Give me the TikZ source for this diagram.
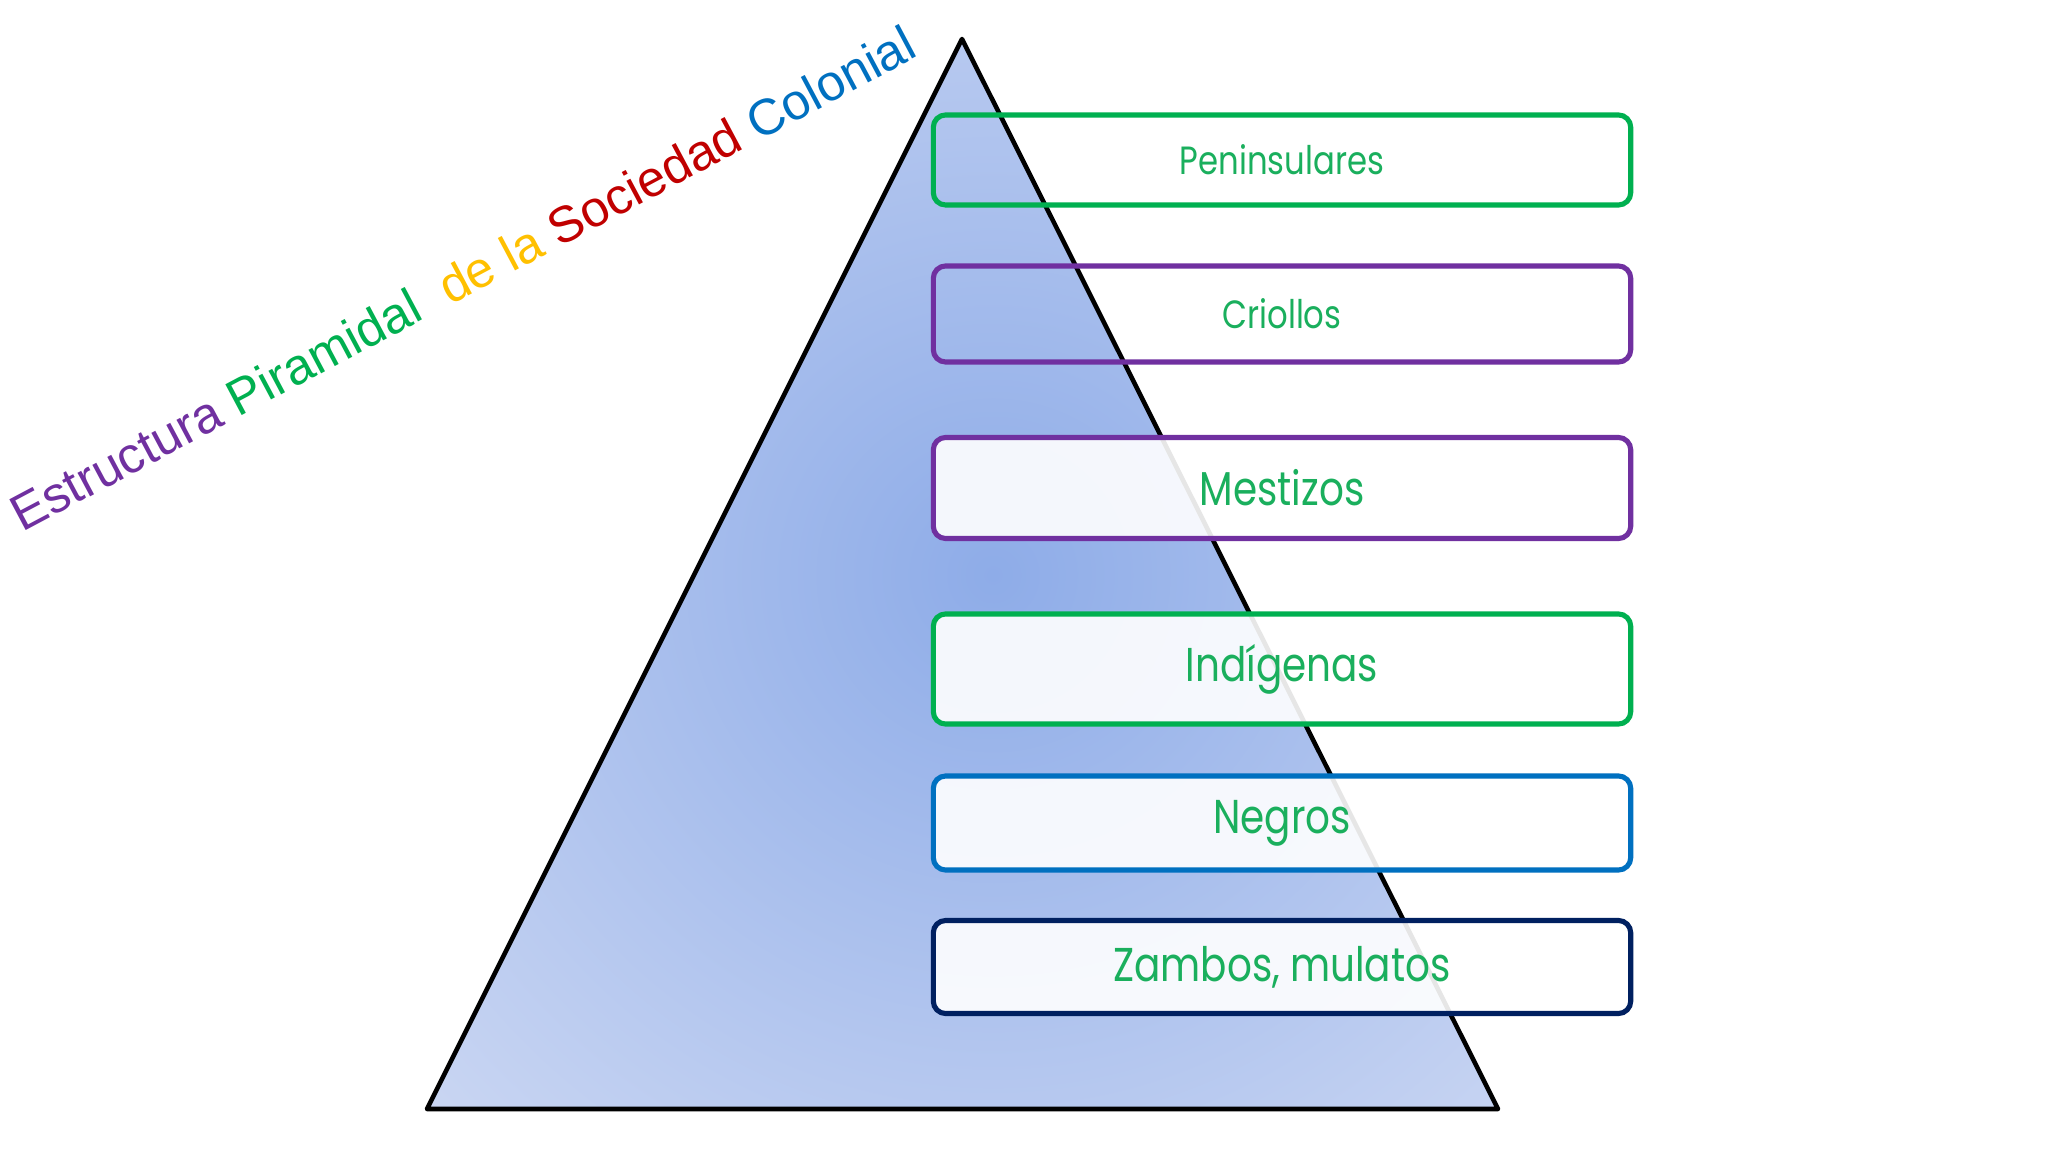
\documentclass[tikz,border=0pt]{standalone}
\usepackage{fontspec}
\setmainfont{Liberation Sans}
\newfontfamily\layerfont[FakeStretch=0.82]{Poppins}
\usetikzlibrary{positioning}
\definecolor{TitlePurple}{HTML}{7030A0}
\definecolor{TitleGreen}{HTML}{00B050}
\definecolor{TitleYellow}{HTML}{FFC000}
\definecolor{TitleRed}{HTML}{C00000}
\definecolor{TitleBlue}{HTML}{0070C0}
\definecolor{LayerNavy}{HTML}{002060}
\definecolor{LayerText}{HTML}{1AAF5D}
\definecolor{PyramidCore}{HTML}{8EACE8}
\definecolor{PyramidEdge}{HTML}{E2E7F7}

\begin{document}
\begin{tikzpicture}[x=0.01cm,y=-0.01cm,
  layer/.style={draw=#1,line width=1.45pt,rounded corners=3.5pt,
    minimum width=6.97cm,text=LayerText},
  smalltext/.style={font=\layerfont\fontsize{11.2}{13}\selectfont},
  bigtext/.style={font=\layerfont\fontsize{13.5}{16}\selectfont},
  veil/.style={fill=white,fill opacity=0.9,text opacity=1}]
  \useasboundingbox[fill=white] (0,0) rectangle (2048,1152);

  % Pyramid
  \coordinate (top) at (962,39);
  \coordinate (baseL) at (427,1109);
  \coordinate (baseR) at (1498,1109);
  \begin{scope}
    \clip (top) -- (baseR) -- (baseL) -- cycle;
    \shade[inner color=PyramidCore,outer color=PyramidEdge] (993,575) circle (11cm);
  \end{scope}
  \draw[line width=1.3pt,line join=round] (top) -- (baseR) -- (baseL) -- cycle;

  % Layers
  \node[layer=TitleGreen,smalltext,minimum height=0.90cm] (pen) at (1282,160) {Peninsulares};
  \node[layer=TitlePurple,smalltext,minimum height=0.96cm] (cri) at (1282,314) {Criollos};
  \node[layer=TitlePurple,bigtext,veil,minimum height=1.01cm] (mes) at (1282,488) {Mestizos};
  \node[layer=TitleGreen,bigtext,veil,minimum height=1.10cm] (ind) at (1282,669) {Indígenas};
  \node[layer=TitleBlue,bigtext,veil,minimum height=0.94cm] (neg) at (1282,823) {Negros};
  \node[layer=LayerNavy,bigtext,veil,minimum height=0.93cm] (zam) at (1282,967) {Zambos, mulatos};

  % Title
  \node[anchor=base west,rotate=28,inner sep=0pt,font=\fontsize{14.4}{17}\selectfont] (title) at (22,533)
    {\textcolor{TitlePurple}{Estructura} \textcolor{TitleGreen}{Piramidal}\ \ \textcolor{TitleYellow}{de la} \textcolor{TitleRed}{Sociedad} \textcolor{TitleBlue}{Colonial}};
\end{tikzpicture}
\end{document}
